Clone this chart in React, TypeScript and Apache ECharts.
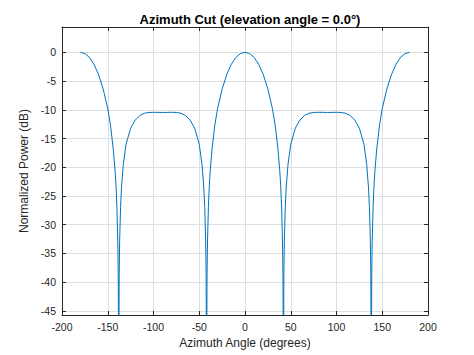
import React, { useEffect, useRef } from "react";
import * as echarts from "echarts";

const azimuthDeg: number[] = [
  -180, -175, -170, -165, -160, -155, -150, -147, -144, -142, -141, -140, -139, -138.5, -138, -137.5, -137, -136, -135, -133,
  -130, -125, -120, -115, -110, -105, -100, -95, -90, -85, -80, -75, -70, -65, -60, -55, -50, -47, -45, -44,
  -43, -42.5, -42, -41.5, -41, -40, -39, -38, -36, -33, -30, -25, -20, -15, -10, -5,
  0, 5, 10, 15, 20, 25, 30, 33, 36, 38, 39, 40, 41, 41.5, 42, 42.5, 43, 44, 45, 47,
  50, 55, 60, 65, 70, 75, 80, 85, 90, 95, 100, 105, 110, 115, 120, 125, 130, 133, 135, 136,
  137, 137.5, 138, 138.5, 139, 140, 141, 142, 144, 147, 150, 155, 160, 165, 170, 175, 180,
];

const powerDb: number[] = [
  0, -0.22, -0.89, -2.1, -3.9, -6.4, -9.8, -12.7, -16.8, -20.6, -23.2, -26.9, -33.0, -39.0, -60, -38.5, -32.8, -27.0, -23.6, -19.5,
  -16.0, -13.2, -11.8, -11.0, -10.6, -10.47, -10.44, -10.45, -10.47, -10.45, -10.44, -10.47, -10.6, -11.0, -11.8, -13.2, -16.0, -19.5, -23.6, -27.0,
  -32.8, -38.5, -60, -39.0, -33.0, -26.9, -23.2, -20.6, -16.8, -12.7, -9.8, -6.4, -3.9, -2.1, -0.89, -0.22,
  0, -0.22, -0.89, -2.1, -3.9, -6.4, -9.8, -12.7, -16.8, -20.6, -23.2, -26.9, -33.0, -39.0, -60, -38.5, -32.8, -27.0, -23.6, -19.5,
  -16.0, -13.2, -11.8, -11.0, -10.6, -10.47, -10.44, -10.45, -10.47, -10.45, -10.44, -10.47, -10.6, -11.0, -11.8, -13.2, -16.0, -19.5, -23.6, -27.0,
  -32.8, -38.5, -60, -39.0, -33.0, -26.9, -23.2, -20.6, -16.8, -12.7, -9.8, -6.4, -3.9, -2.1, -0.89, -0.22, 0,
];

const yTicks: number[] = [0, -5, -10, -15, -20, -25, -30, -35, -40, -45];
const xTicks: number[] = [-200, -150, -100, -50, 0, 50, 100, 150, 200];

const FONT = "Liberation Sans, Arial, Helvetica, sans-serif";
const AX = "#262626";
const GRID = "#dfdfdf";

export default function App() {
  const ref = useRef<HTMLDivElement>(null);
  useEffect(() => {
    if (!ref.current) return;
    const chart = echarts.init(ref.current, null, { renderer: "svg" });
    const data = azimuthDeg.map((a, i) => [a, powerDb[i]]);
    const yMin = -45.7;
    const yMax = 4.4;
    chart.setOption({
      animation: false,
      backgroundColor: "#ffffff",
      title: {
        text: "Azimuth Cut (elevation angle = 0.0°)",
        left: 245,
        top: 8,
        textAlign: "center",
        textStyle: { fontFamily: FONT, fontSize: 13, fontWeight: "bold", color: "#000000" },
      },
      grid: { left: 62, top: 27, width: 366, height: 288, containLabel: false },
      xAxis: [
        {
          type: "value",
          min: -200,
          max: 200,
          interval: 50,
          position: "bottom",
          name: "Azimuth Angle (degrees)",
          nameLocation: "middle",
          nameGap: 20,
          nameTextStyle: { fontFamily: FONT, fontSize: 12, color: AX },
          axisLine: { show: true, onZero: false, lineStyle: { color: AX, width: 1 } },
          axisTick: { show: true, inside: true, length: 4, lineStyle: { color: AX } },
          axisLabel: { fontFamily: FONT, fontSize: 10.5, color: AX, margin: 6, customValues: xTicks },
          splitLine: { show: true, lineStyle: { color: GRID, width: 1 } },
        },
        {
          type: "value",
          min: -200,
          max: 200,
          interval: 50,
          position: "top",
          axisLine: { show: true, onZero: false, lineStyle: { color: AX, width: 1 } },
          axisTick: { show: true, inside: true, length: 4, lineStyle: { color: AX } },
          axisLabel: { show: false },
          splitLine: { show: false },
        },
      ],
      yAxis: [
        {
          type: "value",
          min: yMin,
          max: yMax,
          position: "left",
          name: "Normalized Power (dB)",
          nameLocation: "middle",
          nameGap: 22,
          nameTextStyle: { fontFamily: FONT, fontSize: 12, color: AX },
          axisLine: { show: true, onZero: false, lineStyle: { color: AX, width: 1 } },
          axisTick: { show: true, inside: true, length: 4, lineStyle: { color: AX }, customValues: yTicks },
          axisLabel: { fontFamily: FONT, fontSize: 10.5, color: AX, margin: 6, customValues: yTicks },
          splitLine: { show: true, lineStyle: { color: GRID, width: 1 } },
        },
        {
          type: "value",
          min: yMin,
          max: yMax,
          position: "right",
          axisLine: { show: true, onZero: false, lineStyle: { color: AX, width: 1 } },
          axisTick: { show: true, inside: true, length: 4, lineStyle: { color: AX }, customValues: yTicks },
          axisLabel: { show: false },
          splitLine: { show: false },
        },
      ],
      series: [
        {
          type: "line",
          data,
          xAxisIndex: 0,
          yAxisIndex: 0,
          showSymbol: false,
          symbol: "none",
          clip: true,
          lineStyle: { color: "#0072BD", width: 1 },
        },
      ],
    });
    return () => chart.dispose();
  }, []);
  return (
    <div
      ref={ref}
      style={{ position: "fixed", left: 0, top: 0, width: 474, height: 355, background: "#fff" }}
    />
  );
}
